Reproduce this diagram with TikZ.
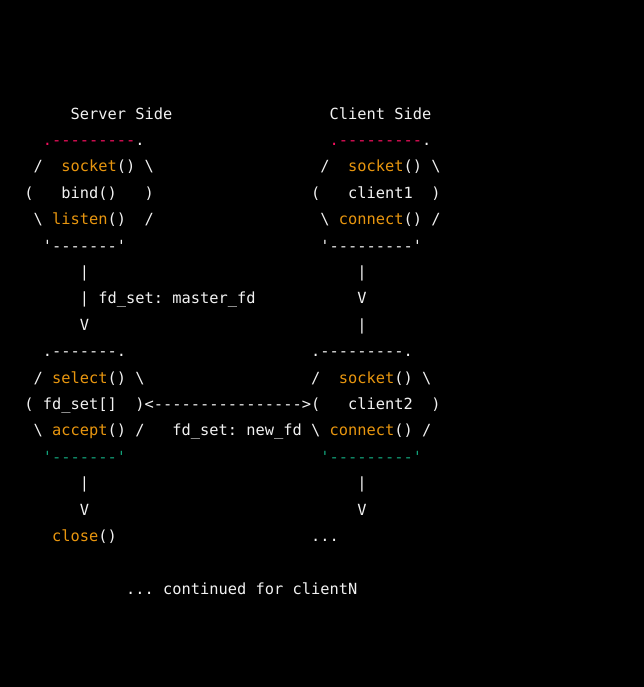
\documentclass[tikz,border=0pt]{standalone}
\usepackage{fontspec}
\usepackage{tikz}
\newfontfamily\codefont{DejaVu Sans Mono}
\frenchspacing

\definecolor{ink}{HTML}{F2F2F2}
\definecolor{fncol}{HTML}{E8960F}
\definecolor{topcol}{HTML}{F5105F}
\definecolor{botcol}{HTML}{12A27A}

\tikzset{
  txt/.style={font=\codefont\fontsize{15.36pt}{18pt}\selectfont\frenchspacing, text=ink,
    anchor=base west, inner sep=0pt, outer sep=0pt},
  fn/.style={txt, text=fncol},
  toprim/.style={txt, text=topcol},
  botrim/.style={txt, text=botcol}
}

\begin{document}
\begin{tikzpicture}[x=9.25pt, y=-26.4pt]
    \fill[black] (-2.638,-4.508) rectangle (66.984,21.515);

    % headers
    \node[txt] (srvhead) at (5,0) {Server Side};
    \node[txt] (clihead) at (33,0) {Client Side};

    % server: socket / bind / listen
    \node[toprim] (s1top) at (2,1) {.---------};
    \node[txt] (s1topend) at (12,1) {.};
    \node[txt] (s1l2) at (1,2) {/};
    \node[fn] (s1socket) at (4,2) {socket};
    \node[txt] (s1socketp) at (10,2) {()};
    \node[txt] (s1r2) at (13,2) {\textbackslash};
    \node[txt] (s1l3) at (0,3) {(};
    \node[txt] (s1bind) at (4,3) {bind()};
    \node[txt] (s1r3) at (13,3) {)};
    \node[txt] (s1l4) at (1,4) {\textbackslash};
    \node[fn] (s1listen) at (3,4) {listen};
    \node[txt] (s1listenp) at (9,4) {()};
    \node[txt] (s1r4) at (13,4) {/};
    \node[txt] (s1bot) at (2,5) {'-------'};

    % client1: socket / connect
    \node[toprim] (c1top) at (33,1) {.---------};
    \node[txt] (c1topend) at (43,1) {.};
    \node[txt] (c1l2) at (32,2) {/};
    \node[fn] (c1socket) at (35,2) {socket};
    \node[txt] (c1socketp) at (41,2) {()};
    \node[txt] (c1r2) at (44,2) {\textbackslash};
    \node[txt] (c1l3) at (31,3) {(};
    \node[txt] (c1name) at (35,3) {client1};
    \node[txt] (c1r3) at (44,3) {)};
    \node[txt] (c1l4) at (32,4) {\textbackslash};
    \node[fn] (c1connect) at (34,4) {connect};
    \node[txt] (c1connectp) at (41,4) {()};
    \node[txt] (c1r4) at (44,4) {/};
    \node[txt] (c1bot) at (32,5) {'---------'};

    % down links
    \node[txt] (sbar1) at (6,6) {|};
    \node[txt] (sbar2) at (6,7) {|};
    \node[txt] (masterfd) at (8,7) {fd\_set: master\_fd};
    \node[txt] (sdown1) at (6,8) {V};
    \node[txt] (cbar1) at (36,6) {|};
    \node[txt] (cdown1) at (36,7) {V};
    \node[txt] (cbar2) at (36,8) {|};

    % server: select / accept
    \node[txt] (s2top) at (2,9) {.-------.};
    \node[txt] (s2l2) at (1,10) {/};
    \node[fn] (s2select) at (3,10) {select};
    \node[txt] (s2selectp) at (9,10) {()};
    \node[txt] (s2r2) at (12,10) {\textbackslash};
    \node[txt] (s2l3) at (0,11) {(};
    \node[txt] (s2fdset) at (2,11) {fd\_set[]};
    \node[txt] (s2r3) at (12,11) {)};
    \node[txt] (link) at (13,11) {<---------------->};
    \node[txt] (s2l4) at (1,12) {\textbackslash};
    \node[fn] (s2accept) at (3,12) {accept};
    \node[txt] (s2acceptp) at (9,12) {()};
    \node[txt] (s2r4) at (12,12) {/};
    \node[txt] (newfd) at (16,12) {fd\_set: new\_fd};
    \node[botrim] (s2bot) at (2,13) {'-------'};

    % client2: socket / connect
    \node[txt] (c2top) at (31,9) {.---------.};
    \node[txt] (c2l2) at (31,10) {/};
    \node[fn] (c2socket) at (34,10) {socket};
    \node[txt] (c2socketp) at (40,10) {()};
    \node[txt] (c2r2) at (43,10) {\textbackslash};
    \node[txt] (c2l3) at (31,11) {(};
    \node[txt] (c2name) at (35,11) {client2};
    \node[txt] (c2r3) at (44,11) {)};
    \node[txt] (c2l4) at (31,12) {\textbackslash};
    \node[fn] (c2connect) at (33,12) {connect};
    \node[txt] (c2connectp) at (40,12) {()};
    \node[txt] (c2r4) at (43,12) {/};
    \node[botrim] (c2bot) at (32,13) {'---------'};

    % tails
    \node[txt] (sbar3) at (6,14) {|};
    \node[txt] (sdown2) at (6,15) {V};
    \node[fn] (sclose) at (3,16) {close};
    \node[txt] (sclosep) at (8,16) {()};
    \node[txt] (cbar3) at (36,14) {|};
    \node[txt] (cdown2) at (36,15) {V};
    \node[txt] (cmore) at (31,16) {...};

    \node[txt] (clientn) at (11,18) {... continued for clientN};
\end{tikzpicture}
\end{document}
